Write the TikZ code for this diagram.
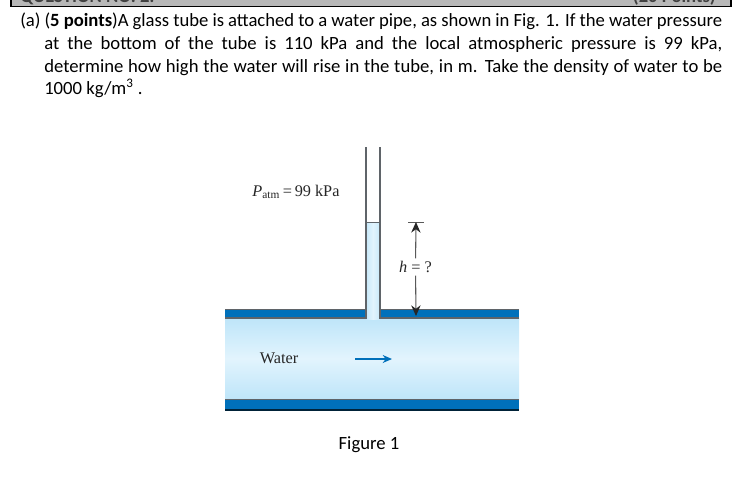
\documentclass[tikz,border=0pt]{standalone}
\usepackage{amsmath}
\usepackage{fontspec}
\setmainfont{Carlito}
\newfontfamily\figfont{Liberation Serif}
\usetikzlibrary{positioning}
\usetikzlibrary{arrows.meta}
\definecolor{pipeblue}{RGB}{0,112,186}
\definecolor{waterlight}{RGB}{226,244,253}
\definecolor{waterdark}{RGB}{190,229,249}
\definecolor{wallgray}{RGB}{95,100,105}
\tikzset{
  qline/.style={inner sep=0pt, anchor=base west, font=\fontsize{14}{17}\selectfont},
  figlabel/.style={inner sep=0pt, text=black!85, font=\figfont\fontsize{12.2}{14}\selectfont},
  wall/.style={draw=wallgray, line width=0.9pt},
  dimline/.style={draw=black!65, line width=0.8pt, -{Stealth[length=8pt,width=7pt,color=black!85]}},
}
\newcommand{\fullline}[1]{\hbox to 508.5pt{#1}}
\begin{document}
\begin{tikzpicture}[x=0.75pt,y=-0.75pt]
    \useasboundingbox (0,0) rectangle (746,479);

    % Header strip
    \fill[black!28] (11,0) rectangle (731,6);
    \draw[black, line width=1.2pt] (11,0) -- (11,6.5) -- (731,6.5) -- (731,0);
    \begin{scope}
      \clip (11,0) rectangle (731,6);
      \node[qline, text=black!75, font=\bfseries\fontsize{14}{17}\selectfont] (qtitle) at (20,2) {QUESTION NO. 2:};
      \node[qline, text=black!75, anchor=base east, font=\bfseries\fontsize{14}{17}\selectfont] (qpoints) at (716,2) {(20 Points)};
    \end{scope}

    % Question text
    \node[qline] (qa) at (20,26) {\hbox to 526.5pt{(a) (\textbf{5 points})A glass tube is attached to a water pipe, as shown in Fig. 1. If the water pressure}};
    \node[qline] (qb) at (44,49) {\fullline{at the bottom of the tube is 110 kPa and the local atmospheric pressure is 99 kPa,}};
    \node[qline] (qc) at (44,72) {\fullline{determine how high the water will rise in the tube, in m. Take the density of water to be}};
    \node[qline] (qd) at (44,94) {1000 kg/m\textsuperscript{3} .};

    % Water
    \fill[top color=waterdark, bottom color=waterdark, middle color=waterlight] (225,318) rectangle (519,399);
    \fill[left color=waterdark!85!white, right color=waterdark!85!white, middle color=waterlight] (366,222) rectangle (380,319);

    % Pipe walls
    \fill[pipeblue] (225,310) rectangle (366,318);
    \fill[pipeblue] (380,310) rectangle (519,318);
    \fill[pipeblue] (225,400) rectangle (519,410);
    \draw[wall] (225,309.5) -- (366,309.5) -- (366,147);
    \draw[wall] (519,309.5) -- (380,309.5) -- (380,147);
    \draw[wall] (225,318) -- (366,318) -- (366,310);
    \draw[wall] (519,318) -- (380,318) -- (380,310);
    \draw[wall] (225,399.5) -- (519,399.5);
    \draw[black!70!pipeblue, line width=0.8pt] (225,410) -- (519,410);
    \draw[wall, line width=0.7pt] (366,222) -- (380,222);

    % Labels
    \node[figlabel] (patm) at (296,192) {\textit{P}\textsubscript{atm}\,=\,99 kPa};
    \node[figlabel] (water) at (279,358.5) {Water};
    \node[figlabel, inner sep=2pt] (height) at (415.5,267) {\textit{h} = ?};
    \node[inner sep=0pt, font=\fontsize{14}{17}\selectfont] (figure) at (369,445) {Figure 1};

    % Dimension
    \coordinate (hbottom) at (416,316);
    \coordinate (htop) at (416,222);
    \draw[black!65, line width=0.7pt] (408,222) -- (424,222);
    \draw[dimline] (height) -- (htop);
    \draw[dimline] (height) -- (hbottom);

    % Flow arrow
    \coordinate (flowstart) at (355,359);
    \coordinate (flowend) at (392,359);
    \draw[pipeblue, line width=1pt, -{Stealth[length=7pt,width=6pt]}] (flowstart) -- (flowend);
  \end{tikzpicture}
\end{document}
